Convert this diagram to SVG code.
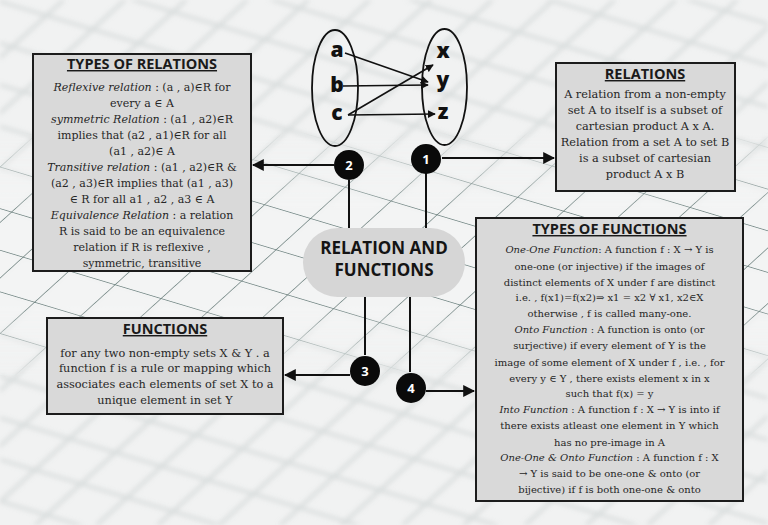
<svg xmlns="http://www.w3.org/2000/svg" width="768" height="525" viewBox="0 0 768 525">
<defs>
<style>
.box{fill:#d9d9d9;stroke:#1c1c1c;stroke-width:2}
.title{font-family:"Open Sans","Liberation Sans",sans-serif;font-weight:700;font-size:14.5px;fill:#1a1a1a;text-anchor:middle;text-decoration:underline}
.body{font-family:"DejaVu Serif","Liberation Serif",serif;font-size:10px;fill:#262626;text-anchor:middle}
.b11{font-size:11px}
.b112{font-size:11.3px}
.i{font-style:italic}
.conn{stroke:#111;stroke-width:2;fill:none}
.num{fill:#0a0a0a}
.numt{font-family:"Open Sans","Liberation Sans",sans-serif;font-weight:700;font-size:13px;fill:#fff;text-anchor:middle}
.venn{fill:none;stroke:#111;stroke-width:1.8}
.vl{font-family:"Open Sans","Liberation Sans",sans-serif;font-weight:800;font-size:21px;fill:#111;text-anchor:middle}
.va{stroke:#111;stroke-width:1.6;fill:none}
</style>
<marker id="ah" viewBox="0 0 10 10" refX="9" refY="5" markerWidth="6" markerHeight="6" orient="auto-start-reverse">
<path d="M0 0L10 5L0 10z" fill="#111"/>
</marker>
<marker id="vh" viewBox="0 0 10 10" refX="9" refY="5" markerWidth="5" markerHeight="5" orient="auto">
<path d="M0 0L10 5L0 10z" fill="#111"/>
</marker>
<pattern id="soft" width="46" height="46" patternUnits="userSpaceOnUse" patternTransform="matrix(1 0.3 -0.75 0.68 0 0)">
<path d="M0 0H46M0 0V46" stroke="#d3d8d8" stroke-width="7"/>
</pattern>
<pattern id="sharp" width="46" height="46" patternUnits="userSpaceOnUse" patternTransform="matrix(1 0.3 -0.75 0.68 0 0)">
<path d="M0 0H46M0 0V46" stroke="#4d6663" stroke-width="1.4"/>
</pattern>
<filter id="blur"><feGaussianBlur stdDeviation="2.5"/></filter>
<linearGradient id="bandg" x1="0" y1="0" x2="0" y2="1">
<stop offset="0" stop-color="#fff" stop-opacity="0"/>
<stop offset="0.25" stop-color="#fff" stop-opacity="0"/>
<stop offset="0.4" stop-color="#fff" stop-opacity="1"/>
<stop offset="0.58" stop-color="#fff" stop-opacity="1"/>
<stop offset="0.72" stop-color="#fff" stop-opacity="0"/>
<stop offset="1" stop-color="#fff" stop-opacity="0"/>
</linearGradient>
<mask id="band"><rect width="768" height="525" fill="url(#bandg)"/></mask>
</defs>

<g id="background">
<rect width="768" height="525" fill="#f1f2f2"/>
<rect width="768" height="525" fill="url(#soft)" filter="url(#blur)" opacity="0.9"/>
<rect width="768" height="525" fill="#f4f5f5" mask="url(#band)" opacity="0.9"/>
<rect width="768" height="525" fill="url(#sharp)" mask="url(#band)" opacity="0.9"/>
</g>

<g id="connectors">
<path class="conn" d="M334 165H253" marker-end="url(#ah)"/>
<path class="conn" d="M349 180V228"/>
<path class="conn" d="M442 158H554" marker-end="url(#ah)"/>
<path class="conn" d="M426 173V228"/>
<path class="conn" d="M365 297V355"/>
<path class="conn" d="M350 375H285" marker-end="url(#ah)"/>
<path class="conn" d="M410 297V372"/>
<path class="conn" d="M426 391H474" marker-end="url(#ah)"/>
</g>

<g id="venn">
<ellipse class="venn" cx="335" cy="88" rx="23" ry="58"/>
<ellipse class="venn" cx="444.5" cy="87" rx="22.5" ry="58"/>
<text class="vl" x="337" y="57">a</text>
<text class="vl" x="337" y="92">b</text>
<text class="vl" x="337" y="120">c</text>
<text class="vl" x="443" y="58">x</text>
<text class="vl" x="443" y="87">y</text>
<text class="vl" x="443" y="119">z</text>
<path class="va" d="M345 53L428 82" marker-end="url(#vh)"/>
<path class="va" d="M343 86L428 85" marker-end="url(#vh)"/>
<path class="va" d="M348 115L433 65" marker-end="url(#vh)"/>
<path class="va" d="M348 115L435 114" marker-end="url(#vh)"/>
</g>

<g id="center">
<rect x="303" y="228" width="162" height="69" rx="34.5" fill="#d6d6d6"/>
<text x="384" y="254" font-family="'Open Sans','Liberation Sans',sans-serif" font-weight="700" font-size="17" fill="#141414" text-anchor="middle">RELATION AND</text>
<text x="384" y="276" font-family="'Open Sans','Liberation Sans',sans-serif" font-weight="700" font-size="17" fill="#141414" text-anchor="middle">FUNCTIONS</text>
</g>

<g id="n1"><circle class="num" cx="426" cy="159" r="15"/><text class="numt" x="426" y="164">1</text></g>
<g id="n2"><circle class="num" cx="349" cy="165" r="15"/><text class="numt" x="349" y="170">2</text></g>
<g id="n3"><circle class="num" cx="365" cy="371" r="15"/><text class="numt" x="365" y="376">3</text></g>
<g id="n4"><circle class="num" cx="411" cy="388" r="15"/><text class="numt" x="411" y="393">4</text></g>

<g id="types-of-relations">
<rect class="box" x="33" y="54" width="218" height="217"/>
<text class="title" x="142" y="69">TYPES OF RELATIONS</text>
<text class="body b11" x="142" y="91"><tspan class="i">Reflexive relation</tspan> : (a , a)∈R for</text>
<text class="body b11" x="142" y="107">every a  ∈ A</text>
<text class="body b11" x="142" y="123"><tspan class="i">symmetric Relation</tspan> : (a1 , a2)∈R</text>
<text class="body b11" x="142" y="139">implies that (a2 , a1)∈R for all</text>
<text class="body b11" x="142" y="155">(a1 , a2)∈ A</text>
<text class="body b11" x="142" y="171"><tspan class="i">Transitive relation</tspan> : (a1 , a2)∈R &amp;</text>
<text class="body b11" x="142" y="187">(a2 , a3)∈R implies that (a1 , a3)</text>
<text class="body b11" x="142" y="203">∈ R for all a1 , a2 , a3 ∈ A</text>
<text class="body b11" x="142" y="219"><tspan class="i">Equivalence Relation</tspan> : a relation</text>
<text class="body b11" x="142" y="235">R is said to be an equivalence</text>
<text class="body b11" x="142" y="251">relation if R is reflexive ,</text>
<text class="body b11" x="142" y="267">symmetric, transitive</text>
</g>

<g id="relations">
<rect class="box" x="556" y="63" width="179" height="128"/>
<text class="title" x="645" y="79">RELATIONS</text>
<text class="body b112" x="645" y="98">A relation from a non-empty</text>
<text class="body b112" x="645" y="114">set A to itself is a subset of</text>
<text class="body b112" x="645" y="130">cartesian product A x A.</text>
<text class="body b112" x="645" y="146">Relation from a set A to set B</text>
<text class="body b112" x="645" y="162">is a subset of cartesian</text>
<text class="body b112" x="645" y="178">product A x B</text>
</g>

<g id="types-of-functions">
<rect class="box" x="476" y="218" width="267" height="283"/>
<text class="title" x="609.5" y="234">TYPES OF FUNCTIONS</text>
<text class="body" x="609.5" y="253"><tspan class="i">One-One Function</tspan>: A function f : X → Y is</text>
<text class="body" x="609.5" y="270">one-one (or injective) if  the images of</text>
<text class="body" x="609.5" y="286">distinct elements of X under f are distinct</text>
<text class="body" x="609.5" y="301">i.e. , f(x1)=f(x2)⇒ x1 = x2 ∀ x1, x2∈X</text>
<text class="body" x="609.5" y="317">otherwise , f is called many-one.</text>
<text class="body" x="609.5" y="333"><tspan class="i">Onto Function</tspan> : A function is onto (or</text>
<text class="body" x="609.5" y="349">surjective) if every element of Y is the</text>
<text class="body" x="609.5" y="366">image of some element of X under f , i.e. , for</text>
<text class="body" x="609.5" y="382">every y ∈ Y , there exists element x in x</text>
<text class="body" x="609.5" y="397">such that f(x) = y</text>
<text class="body" x="609.5" y="413"><tspan class="i">Into Function</tspan> : A function f : X → Y is into if</text>
<text class="body" x="609.5" y="429">there exists atleast one element in Y which</text>
<text class="body" x="609.5" y="446">has no pre-image in A</text>
<text class="body" x="609.5" y="461"><tspan class="i">One-One &amp; Onto Function</tspan> : A function f : X</text>
<text class="body" x="609.5" y="477">→ Y is said to be one-one &amp; onto (or</text>
<text class="body" x="609.5" y="493">bijective) if f is both one-one &amp; onto</text>
</g>

<g id="functions">
<rect class="box" x="47" y="318" width="236" height="96"/>
<text class="title" x="165" y="334">FUNCTIONS</text>
<text class="body b112" x="165" y="357">for any two non-empty sets X &amp; Y . a</text>
<text class="body b112" x="165" y="372">function f is a rule or mapping which</text>
<text class="body b112" x="165" y="388">associates each elements of set X to a</text>
<text class="body b112" x="165" y="404">unique element in set Y</text>
</g>
</svg>
